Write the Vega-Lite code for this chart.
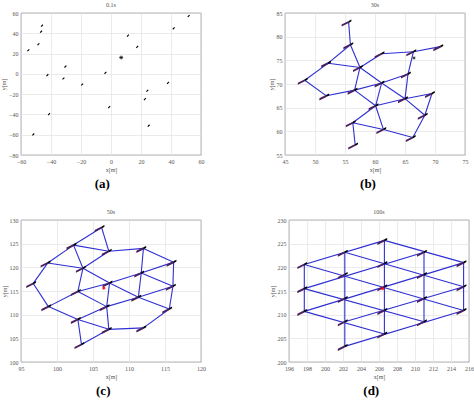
{
"$schema": "https://vega.github.io/schema/vega-lite/v6.json",
"padding": {"left": 0, "top": 1, "right": 2, "bottom": 0},
"background": "white",
"config": {
  "view": {"stroke": "#555", "strokeWidth": 0.7},
  "axis": {"labelFont": "Liberation Serif", "labelFontSize": 6, "labelColor": "#555", "labelOverlap": false, "labelFlush": false, "tickCount": 30, "format": "d", "titleFont": "Liberation Serif", "titleFontSize": 6, "titleFontWeight": "normal", "titleColor": "#555", "gridColor": "#e2e2e2", "gridWidth": 0.7, "domain": false, "ticks": false, "labelPadding": 3, "titlePadding": 2},
  "title": {"font": "Liberation Serif", "fontSize": 6, "fontWeight": "normal", "color": "#555", "offset": 2, "anchor": "middle"}
},
"datasets": {
  "agents": [
    {"p":"a","x":-46.0,"y":47.5},{"p":"a","x":-46.6,"y":41.6},{"p":"a","x":-48.4,"y":29.2},{"p":"a","x":-55.1,"y":23.3},
    {"p":"a","x":-30.4,"y":7.2},{"p":"a","x":-42.4,"y":-1.3},{"p":"a","x":-31.7,"y":-4.6},{"p":"a","x":-19.2,"y":-10.5},
    {"p":"a","x":-41.3,"y":-39.7},{"p":"a","x":-51.8,"y":-59.7},{"p":"a","x":-3.7,"y":1.0},{"p":"a","x":-1.2,"y":-32.8},
    {"p":"a","x":11.3,"y":37.7},{"p":"a","x":17.5,"y":26.6},{"p":"a","x":24.2,"y":-16.7},{"p":"a","x":22.6,"y":-24.9},
    {"p":"a","x":25.1,"y":-51.1},{"p":"a","x":38.0,"y":-8.9},{"p":"a","x":41.8,"y":44.9},{"p":"a","x":51.8,"y":57.0},
    {"p":"b","x":55.6,"y":83.1},{"p":"b","x":55.9,"y":78.3},{"p":"b","x":52.2,"y":74.4},{"p":"b","x":57.5,"y":73.5},
    {"p":"b","x":48.3,"y":70.8},{"p":"b","x":51.9,"y":67.5},{"p":"b","x":56.6,"y":68.7},{"p":"b","x":61.1,"y":76.4},
    {"p":"b","x":66.4,"y":76.8},{"p":"b","x":70.9,"y":77.9},{"p":"b","x":65.5,"y":72.1},{"p":"b","x":61.1,"y":70.2},
    {"p":"b","x":65.0,"y":66.9},{"p":"b","x":60.1,"y":65.4},{"p":"b","x":69.5,"y":68.0},{"p":"b","x":68.3,"y":63.4},
    {"p":"b","x":56.3,"y":61.8},{"p":"b","x":61.4,"y":60.4},{"p":"b","x":66.3,"y":58.7},{"p":"b","x":56.7,"y":57.1},
    {"p":"c","x":106.2,"y":128.4},{"p":"c","x":102.3,"y":124.7},{"p":"c","x":107.2,"y":123.4},{"p":"c","x":98.7,"y":120.9},
    {"p":"c","x":103.6,"y":119.8},{"p":"c","x":96.7,"y":116.6},{"p":"c","x":102.9,"y":114.9},{"p":"c","x":107.3,"y":116.7},
    {"p":"c","x":112.0,"y":124.0},{"p":"c","x":116.2,"y":121.1},{"p":"c","x":111.7,"y":118.8},{"p":"c","x":116.1,"y":116.0},
    {"p":"c","x":111.3,"y":113.7},{"p":"c","x":106.9,"y":111.7},{"p":"c","x":98.8,"y":111.7},{"p":"c","x":102.9,"y":109.0},
    {"p":"c","x":115.6,"y":111.2},{"p":"c","x":107.2,"y":106.9},{"p":"c","x":112.0,"y":107.2},{"p":"c","x":103.4,"y":103.7},
    {"p":"d","x":197.7,"y":220.6},{"p":"d","x":197.7,"y":215.5},{"p":"d","x":197.7,"y":210.7},
    {"p":"d","x":202.2,"y":223.2},{"p":"d","x":202.2,"y":218.5},{"p":"d","x":202.2,"y":213.4},{"p":"d","x":202.2,"y":208.5},{"p":"d","x":202.2,"y":203.3},
    {"p":"d","x":206.6,"y":225.7},{"p":"d","x":206.6,"y":220.8},{"p":"d","x":206.6,"y":215.9},{"p":"d","x":206.6,"y":210.9},{"p":"d","x":206.6,"y":205.9},
    {"p":"d","x":211.0,"y":223.2},{"p":"d","x":211.0,"y":218.5},{"p":"d","x":211.0,"y":213.4},{"p":"d","x":211.0,"y":208.5},
    {"p":"d","x":215.4,"y":221.0},{"p":"d","x":215.4,"y":215.9},{"p":"d","x":215.4,"y":210.9}
  ],
  "stars": [
    {"p":"a","x":6.8,"y":16.1},{"p":"b","x":66.5,"y":75.5},
    {"p":"c","x":106.5,"y":115.6},{"p":"d","x":206.4,"y":215.5}
  ],
  "edges": [
    {"p":"b","x":55.6,"y":83.1,"x2":55.9,"y2":78.3},{"p":"b","x":55.9,"y":78.3,"x2":52.2,"y2":74.4},
    {"p":"b","x":55.9,"y":78.3,"x2":57.5,"y2":73.5},{"p":"b","x":52.2,"y":74.4,"x2":57.5,"y2":73.5},
    {"p":"b","x":52.2,"y":74.4,"x2":48.3,"y2":70.8},{"p":"b","x":48.3,"y":70.8,"x2":51.9,"y2":67.5},
    {"p":"b","x":51.9,"y":67.5,"x2":56.6,"y2":68.7},{"p":"b","x":56.6,"y":68.7,"x2":61.1,"y2":70.2},
    {"p":"b","x":61.1,"y":70.2,"x2":65.5,"y2":72.1},{"p":"b","x":65.5,"y":72.1,"x2":66.4,"y2":76.8},
    {"p":"b","x":66.4,"y":76.8,"x2":61.1,"y2":76.4},{"p":"b","x":61.1,"y":76.4,"x2":57.5,"y2":73.5},
    {"p":"b","x":66.4,"y":76.8,"x2":70.9,"y2":77.9},{"p":"b","x":57.5,"y":73.5,"x2":56.6,"y2":68.7},
    {"p":"b","x":57.5,"y":73.5,"x2":61.1,"y2":70.2},{"p":"b","x":61.1,"y":70.2,"x2":65.0,"y2":66.9},
    {"p":"b","x":65.0,"y":66.9,"x2":68.3,"y2":63.4},{"p":"b","x":56.6,"y":68.7,"x2":60.1,"y2":65.4},
    {"p":"b","x":61.1,"y":70.2,"x2":60.1,"y2":65.4},{"p":"b","x":60.1,"y":65.4,"x2":65.0,"y2":66.9},
    {"p":"b","x":65.0,"y":66.9,"x2":69.5,"y2":68.0},{"p":"b","x":69.5,"y":68.0,"x2":68.3,"y2":63.4},
    {"p":"b","x":65.5,"y":72.1,"x2":65.0,"y2":66.9},{"p":"b","x":60.1,"y":65.4,"x2":56.3,"y2":61.8},
    {"p":"b","x":60.1,"y":65.4,"x2":61.4,"y2":60.4},{"p":"b","x":56.3,"y":61.8,"x2":61.4,"y2":60.4},
    {"p":"b","x":61.4,"y":60.4,"x2":66.3,"y2":58.7},{"p":"b","x":66.3,"y":58.7,"x2":68.3,"y2":63.4},
    {"p":"b","x":56.3,"y":61.8,"x2":56.7,"y2":57.1},
    {"p":"c","x":106.2,"y":128.4,"x2":102.3,"y2":124.7},{"p":"c","x":106.2,"y":128.4,"x2":107.2,"y2":123.4},
    {"p":"c","x":102.3,"y":124.7,"x2":107.2,"y2":123.4},{"p":"c","x":102.3,"y":124.7,"x2":98.7,"y2":120.9},
    {"p":"c","x":102.3,"y":124.7,"x2":103.6,"y2":119.8},{"p":"c","x":107.2,"y":123.4,"x2":103.6,"y2":119.8},
    {"p":"c","x":107.2,"y":123.4,"x2":112.0,"y2":124.0},{"p":"c","x":98.7,"y":120.9,"x2":103.6,"y2":119.8},
    {"p":"c","x":98.7,"y":120.9,"x2":96.7,"y2":116.6},{"p":"c","x":103.6,"y":119.8,"x2":102.9,"y2":114.9},
    {"p":"c","x":103.6,"y":119.8,"x2":107.3,"y2":116.7},{"p":"c","x":96.7,"y":116.6,"x2":98.8,"y2":111.7},
    {"p":"c","x":102.9,"y":114.9,"x2":98.8,"y2":111.7},{"p":"c","x":102.9,"y":114.9,"x2":107.3,"y2":116.7},
    {"p":"c","x":102.9,"y":114.9,"x2":106.9,"y2":111.7},{"p":"c","x":98.8,"y":111.7,"x2":102.9,"y2":109.0},
    {"p":"c","x":102.9,"y":109.0,"x2":106.9,"y2":111.7},{"p":"c","x":102.9,"y":109.0,"x2":107.2,"y2":106.9},
    {"p":"c","x":102.9,"y":109.0,"x2":103.4,"y2":103.7},{"p":"c","x":103.4,"y":103.7,"x2":107.2,"y2":106.9},
    {"p":"c","x":107.2,"y":106.9,"x2":112.0,"y2":107.2},{"p":"c","x":106.9,"y":111.7,"x2":107.2,"y2":106.9},
    {"p":"c","x":107.3,"y":116.7,"x2":106.9,"y2":111.7},{"p":"c","x":106.9,"y":111.7,"x2":111.3,"y2":113.7},
    {"p":"c","x":107.3,"y":116.7,"x2":111.3,"y2":113.7},{"p":"c","x":111.3,"y":113.7,"x2":116.1,"y2":116.0},
    {"p":"c","x":111.3,"y":113.7,"x2":111.7,"y2":118.8},{"p":"c","x":111.7,"y":118.8,"x2":112.0,"y2":124.0},
    {"p":"c","x":107.3,"y":116.7,"x2":111.7,"y2":118.8},{"p":"c","x":111.7,"y":118.8,"x2":116.2,"y2":121.1},
    {"p":"c","x":112.0,"y":124.0,"x2":116.2,"y2":121.1},{"p":"c","x":116.2,"y":121.1,"x2":116.1,"y2":116.0},
    {"p":"c","x":116.1,"y":116.0,"x2":115.6,"y2":111.2},{"p":"c","x":111.7,"y":118.8,"x2":116.1,"y2":116.0},
    {"p":"c","x":111.3,"y":113.7,"x2":115.6,"y2":111.2},{"p":"c","x":115.6,"y":111.2,"x2":112.0,"y2":107.2},
    {"p":"d","x":197.7,"y":220.6,"x2":197.7,"y2":210.7},{"p":"d","x":202.2,"y":223.2,"x2":202.2,"y2":203.3},
    {"p":"d","x":206.6,"y":225.7,"x2":206.6,"y2":205.9},{"p":"d","x":211.0,"y":223.2,"x2":211.0,"y2":208.5},
    {"p":"d","x":215.4,"y":221.0,"x2":215.4,"y2":210.9},
    {"p":"d","x":197.7,"y":220.6,"x2":206.6,"y2":225.7},{"p":"d","x":197.7,"y":215.5,"x2":211.0,"y2":223.2},
    {"p":"d","x":197.7,"y":210.7,"x2":215.4,"y2":221.0},{"p":"d","x":202.2,"y":208.5,"x2":215.4,"y2":215.9},
    {"p":"d","x":202.2,"y":203.3,"x2":215.4,"y2":210.9},
    {"p":"d","x":197.7,"y":220.6,"x2":215.4,"y2":210.9},{"p":"d","x":202.2,"y":223.2,"x2":215.4,"y2":215.9},
    {"p":"d","x":206.6,"y":225.7,"x2":215.4,"y2":221.0},{"p":"d","x":197.7,"y":215.5,"x2":211.0,"y2":208.5},
    {"p":"d","x":197.7,"y":210.7,"x2":206.6,"y2":205.9}
  ]
},
"spacing": 16,
"vconcat": [
 {"hconcat": [
  {"title": {"text": "(a)", "orient": "bottom", "fontSize": 13, "fontWeight": "bold", "color": "black", "offset": 6, "anchor": "middle"},
   "vconcat": [{
    "title": "0.1s", "width": 180, "height": 142,
    "layer": [
     {"data": {"name": "agents"}, "transform": [{"filter": "datum.p == 'a'"}],
      "mark": {"type": "point", "shape": "M -1 0.4 L 0.4 -1 L 1 -0.4 L -0.4 1 Z", "filled": true, "color": "black", "opacity": 1, "size": 7},
      "encoding": {
        "x": {"field": "x", "type": "quantitative", "scale": {"domain": [-60, 60], "nice": false, "zero": false}, "axis": {"values": [-60,-40,-20,0,20,40,60], "title": "x[m]", "labelOverlap": false, "tickCount": 30, "format": "d"}},
        "y": {"field": "y", "type": "quantitative", "scale": {"domain": [-80, 60], "nice": false, "zero": false}, "axis": {"values": [-80,-60,-40,-20,0,20,40,60], "title": "y[m]", "labelOverlap": false, "tickCount": 30, "format": "d"}}}},
     {"data": {"name": "stars"}, "transform": [{"filter": "datum.p == 'a'"}],
      "mark": {"type": "point", "shape": "M -1 0 L 1 0 M 0 -1 L 0 1 M -0.7 -0.7 L 0.7 0.7 M -0.7 0.7 L 0.7 -0.7", "filled": false, "color": "black", "strokeWidth": 0.7, "opacity": 1, "size": 16},
      "encoding": {"x": {"field": "x", "type": "quantitative"}, "y": {"field": "y", "type": "quantitative"}}}
    ]}]},
  {"title": {"text": "(b)", "orient": "bottom", "fontSize": 13, "fontWeight": "bold", "color": "black", "offset": 6, "anchor": "middle"},
   "vconcat": [{
    "title": "30s", "width": 180, "height": 142,
    "layer": [
     {"data": {"name": "edges"}, "transform": [{"filter": "datum.p == 'b'"}],
      "mark": {"type": "rule", "color": "#2f2fd2", "strokeWidth": 1.1},
      "encoding": {
        "x": {"field": "x", "type": "quantitative", "scale": {"domain": [45, 75], "nice": false, "zero": false}, "axis": {"values": [45,50,55,60,65,70,75], "title": "x[m]", "labelOverlap": false, "tickCount": 30, "format": "d"}},
        "y": {"field": "y", "type": "quantitative", "scale": {"domain": [55, 85], "nice": false, "zero": false}, "axis": {"values": [55,60,65,70,75,80,85], "title": "y[m]", "labelOverlap": false, "tickCount": 30, "format": "d"}},
        "x2": {"field": "x2"}, "y2": {"field": "y2"}}},
     {"data": {"name": "agents"}, "transform": [{"filter": "datum.p == 'b'"}],
      "mark": {"type": "point", "shape": "M -2 0.7 L 0 -0.3 L 0 0.3 L -2 1.3 Z", "filled": true, "color": "#4a1f5e", "opacity": 1, "size": 49},
      "encoding": {"x": {"field": "x", "type": "quantitative"}, "y": {"field": "y", "type": "quantitative"}}},
     {"data": {"name": "agents"}, "transform": [{"filter": "datum.p == 'b'"}],
      "mark": {"type": "point", "shape": "M 0 -0.3 L 0.8 -0.7 L 0.8 -0.2 L 0 0.3 Z", "filled": true, "color": "black", "opacity": 1, "size": 49},
      "encoding": {"x": {"field": "x", "type": "quantitative"}, "y": {"field": "y", "type": "quantitative"}}},
     {"data": {"name": "stars"}, "transform": [{"filter": "datum.p == 'b'"}],
      "mark": {"type": "point", "shape": "M -1 0 L 1 0 M 0 -1 L 0 1 M -0.7 -0.7 L 0.7 0.7 M -0.7 0.7 L 0.7 -0.7", "filled": false, "color": "#333", "strokeWidth": 0.8, "opacity": 1, "size": 10},
      "encoding": {"x": {"field": "x", "type": "quantitative"}, "y": {"field": "y", "type": "quantitative"}}}
    ]}]}
 ], "spacing": 62},
 {"hconcat": [
  {"title": {"text": "(c)", "orient": "bottom", "fontSize": 13, "fontWeight": "bold", "color": "black", "offset": 6, "anchor": "middle"},
   "vconcat": [{
    "title": "50s", "width": 180, "height": 142,
    "layer": [
     {"data": {"name": "edges"}, "transform": [{"filter": "datum.p == 'c'"}],
      "mark": {"type": "rule", "color": "#2f2fd2", "strokeWidth": 1.1},
      "encoding": {
        "x": {"field": "x", "type": "quantitative", "scale": {"domain": [95, 120], "nice": false, "zero": false}, "axis": {"values": [95,100,105,110,115,120], "title": "x[m]", "labelOverlap": false, "tickCount": 30, "format": "d"}},
        "y": {"field": "y", "type": "quantitative", "scale": {"domain": [100, 130], "nice": false, "zero": false}, "axis": {"values": [100,105,110,115,120,125,130], "title": "y[m]", "labelOverlap": false, "tickCount": 30, "format": "d"}},
        "x2": {"field": "x2"}, "y2": {"field": "y2"}}},
     {"data": {"name": "agents"}, "transform": [{"filter": "datum.p == 'c'"}],
      "mark": {"type": "point", "shape": "M -2 0.7 L 0 -0.3 L 0 0.3 L -2 1.3 Z", "filled": true, "color": "#4a1f5e", "opacity": 1, "size": 49},
      "encoding": {"x": {"field": "x", "type": "quantitative"}, "y": {"field": "y", "type": "quantitative"}}},
     {"data": {"name": "agents"}, "transform": [{"filter": "datum.p == 'c'"}],
      "mark": {"type": "point", "shape": "M 0 -0.3 L 0.8 -0.7 L 0.8 -0.2 L 0 0.3 Z", "filled": true, "color": "black", "opacity": 1, "size": 49},
      "encoding": {"x": {"field": "x", "type": "quantitative"}, "y": {"field": "y", "type": "quantitative"}}},
     {"data": {"name": "stars"}, "transform": [{"filter": "datum.p == 'c'"}],
      "mark": {"type": "point", "shape": "M -1 0 L 1 0 M 0 -1 L 0 1 M -0.7 -0.7 L 0.7 0.7 M -0.7 0.7 L 0.7 -0.7", "filled": false, "color": "red", "strokeWidth": 0.8, "opacity": 1, "size": 10},
      "encoding": {"x": {"field": "x", "type": "quantitative"}, "y": {"field": "y", "type": "quantitative"}}}
    ]}]},
  {"title": {"text": "(d)", "orient": "bottom", "fontSize": 13, "fontWeight": "bold", "color": "black", "offset": 6, "anchor": "middle"},
   "vconcat": [{
    "title": "100s", "width": 180, "height": 142,
    "layer": [
     {"data": {"name": "edges"}, "transform": [{"filter": "datum.p == 'd'"}],
      "mark": {"type": "rule", "color": "#2f2fd2", "strokeWidth": 1.1},
      "encoding": {
        "x": {"field": "x", "type": "quantitative", "scale": {"domain": [196, 216], "nice": false, "zero": false}, "axis": {"values": [196,198,200,202,204,206,208,210,212,214,216], "title": "x[m]", "labelOverlap": false, "tickCount": 30, "format": "d"}},
        "y": {"field": "y", "type": "quantitative", "scale": {"domain": [200, 230], "nice": false, "zero": false}, "axis": {"values": [200,205,210,215,220,225,230], "title": "y[m]", "labelOverlap": false, "tickCount": 30, "format": "d"}},
        "x2": {"field": "x2"}, "y2": {"field": "y2"}}},
     {"data": {"name": "agents"}, "transform": [{"filter": "datum.p == 'd'"}],
      "mark": {"type": "point", "shape": "M -2 0.7 L 0 -0.3 L 0 0.3 L -2 1.3 Z", "filled": true, "color": "#4a1f5e", "opacity": 1, "size": 49},
      "encoding": {"x": {"field": "x", "type": "quantitative"}, "y": {"field": "y", "type": "quantitative"}}},
     {"data": {"name": "agents"}, "transform": [{"filter": "datum.p == 'd'"}],
      "mark": {"type": "point", "shape": "M 0 -0.3 L 0.8 -0.7 L 0.8 -0.2 L 0 0.3 Z", "filled": true, "color": "black", "opacity": 1, "size": 49},
      "encoding": {"x": {"field": "x", "type": "quantitative"}, "y": {"field": "y", "type": "quantitative"}}},
     {"data": {"name": "stars"}, "transform": [{"filter": "datum.p == 'd'"}],
      "mark": {"type": "point", "shape": "M -1 0 L 1 0 M 0 -1 L 0 1 M -0.7 -0.7 L 0.7 0.7 M -0.7 0.7 L 0.7 -0.7", "filled": false, "color": "red", "strokeWidth": 0.8, "opacity": 1, "size": 10},
      "encoding": {"x": {"field": "x", "type": "quantitative"}, "y": {"field": "y", "type": "quantitative"}}}
    ]}]}
 ], "spacing": 62}
]
}
